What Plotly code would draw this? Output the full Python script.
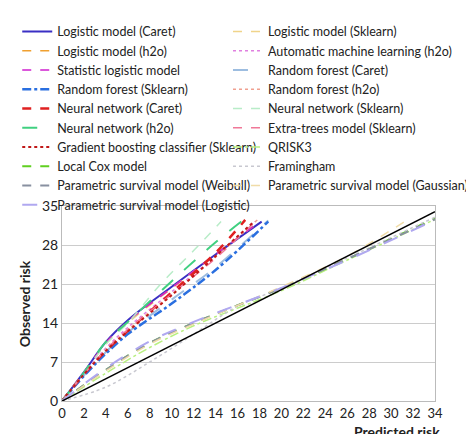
import plotly.graph_objects as go

names = ["Logistic model (Caret)", "Logistic model (Sklearn)",
         "Logistic model (h2o)", "Automatic machine learning (h2o)",
         "Statistic logistic model", "Random forest (Caret)",
         "Random forest (Sklearn)", "Random forest (h2o)",
         "Neural network (Caret)", "Neural network (Sklearn)",
         "Neural network (h2o)", "Extra-trees model (Sklearn)",
         "Gradient boosting classifier (Sklearn)", "QRISK3",
         "Local Cox model", "Framingham",
         "Parametric survival model (Weibull)", "Parametric survival model (Gaussian)",
         "Parametric survival model (Logistic)"]
colors = ["#3a2fc4", "#f0d48a", "#f0a030", "#e080e0", "#d020d0", "#9dbde0",
          "#2a6fe0", "#f0a090", "#e02020", "#b8ecc8", "#40d080", "#f07898",
          "#c01818", "#b8f080", "#60d020", "#c8c8d0", "#8890a0", "#f0dca8", "#b0a8f0"]
dashes = ["solid", "dash", "dash", "dot", "dash", "longdash",
          "dashdot", "dot", "dash", "dash", "longdash", "dash",
          "dot", "dashdot", "dash", "dot", "dash", "dash", "longdash"]
widths = [2, 1.5, 1.5, 1.5, 1.5, 2, 2.5, 1.5, 2.5, 1.5, 2, 1.5, 2, 1.5, 2, 1.5, 2, 1.5, 2]

xs = [
    [0, 2, 4, 6, 10, 14, 18.2],
    [0, 2, 4, 6, 10, 14, 18.0],
    [0, 2, 4, 6, 10, 14, 18.1],
    [0, 2, 4, 6, 10, 14, 17.6],
    [0, 2, 4, 6, 10, 14, 18.1],
    [0, 2, 4, 6, 10, 14, 18.8],
    [0, 2, 4, 6, 10, 14, 18.8],
    [0, 2, 4, 6, 10, 14, 17.8],
    [0, 2, 4, 6, 10, 14, 16.7],
    [0, 2, 4, 6, 9, 12, 14.5],
    [0, 2, 4, 6, 10, 14, 16.4],
    [0, 2, 4, 6, 10, 14, 17.5],
    [0, 2, 4, 6, 10, 14, 17.5],
    [0, 4, 8, 12, 20, 26, 34],
    [0, 4, 8, 12, 20, 26, 34],
    [0, 4, 8, 12, 16, 20, 34],
    [0, 4, 8, 12, 20, 26, 34],
    [0, 4, 8, 12, 20, 26, 31.3],
    [0, 4, 8, 12, 20, 26, 34],
]
ys = [
    [0, 5.2, 10.6, 14.5, 20.5, 26.3, 32.2],
    [0, 5.0, 10.2, 14.0, 20.2, 26.2, 32.3],
    [0, 5.1, 10.4, 14.3, 20.3, 26.3, 32.3],
    [0, 4.9, 9.5, 13.2, 19.6, 26.0, 32.2],
    [0, 5.1, 10.4, 14.3, 20.3, 26.3, 32.3],
    [0, 4.6, 8.8, 12.3, 18.2, 24.0, 32.4],
    [0, 4.5, 8.5, 12.0, 17.5, 23.5, 32.2],
    [0, 4.8, 9.2, 12.8, 19.2, 25.8, 32.5],
    [0, 4.8, 9.0, 12.6, 19.5, 26.6, 32.5],
    [0, 5.0, 10.2, 14.0, 21.0, 27.0, 32.2],
    [0, 5.1, 10.6, 14.2, 21.5, 28.5, 32.3],
    [0, 4.8, 9.2, 12.8, 19.2, 25.6, 32.0],
    [0, 4.8, 9.0, 12.5, 19.0, 26.0, 32.2],
    [0, 5.0, 9.6, 13.5, 19.8, 25.3, 32.6],
    [0, 5.6, 10.4, 14.0, 20.3, 25.5, 32.8],
    [0, 2.5, 7.0, 12.0, 17.0, 20.3, 33.0],
    [0, 5.6, 10.4, 14.0, 20.3, 25.5, 32.6],
    [0, 5.4, 10.2, 13.8, 20.5, 26.0, 32.3],
    [0, 5.9, 10.7, 14.2, 20.3, 25.3, 32.5],
]

x_ticks = list(range(0, 35, 2))
y_ticks = [0, 7, 14, 21, 28, 35]
diag = [0, 34]

fig = go.Figure()
for i, (n, c, d, w, x, y) in enumerate(zip(names, colors, dashes, widths, xs, ys)):
    fig.add_trace(go.Scatter(x=x, y=y, mode="lines", name=n, line_shape="spline",
                             legend="legend" if i % 2 == 0 else "legend2",
                             line=dict(color=c, dash=d, width=w)))
fig.add_trace(go.Scatter(x=diag, y=diag, mode="lines", showlegend=False,
                         line=dict(color="black", width=1.5)))

leg = dict(orientation="v", y=1.97, yanchor="top", xanchor="left", itemwidth=30,
           tracegroupgap=0, font=dict(size=12.5), bgcolor="rgba(0,0,0,0)")
fig.update_layout(
    width=474, height=434, plot_bgcolor="white", paper_bgcolor="white",
    margin=dict(l=46, r=9, t=192, b=41),
    font=dict(family="Lato", size=12.5, color="#222"),
    legend=dict(leg, x=-0.12),
    legend2=dict(leg, x=0.445),
    xaxis=dict(range=[0, 34], tickvals=x_ticks, showgrid=False, zeroline=False,
               showline=True, linecolor="#bbb", mirror=True, ticks="", tickfont=dict(size=13)),
    yaxis=dict(range=[0, 35], tickvals=y_ticks, showgrid=True, gridcolor="#ccc",
               zeroline=False, showline=True, linecolor="#bbb", mirror=True, ticks="",
               tickfont=dict(size=14)),
    annotations=[
        dict(text="<b>Predicted risk</b>", x=1.02, y=-0.1, xref="paper", yref="paper",
             xanchor="right", yanchor="top", showarrow=False, font=dict(size=14)),
        dict(text="<b>Observed risk</b>", x=-0.1, y=0.5, xref="paper", yref="paper",
             textangle=-90, xanchor="center", showarrow=False, font=dict(size=14)),
    ],
)
fig.write_html("out.html")
